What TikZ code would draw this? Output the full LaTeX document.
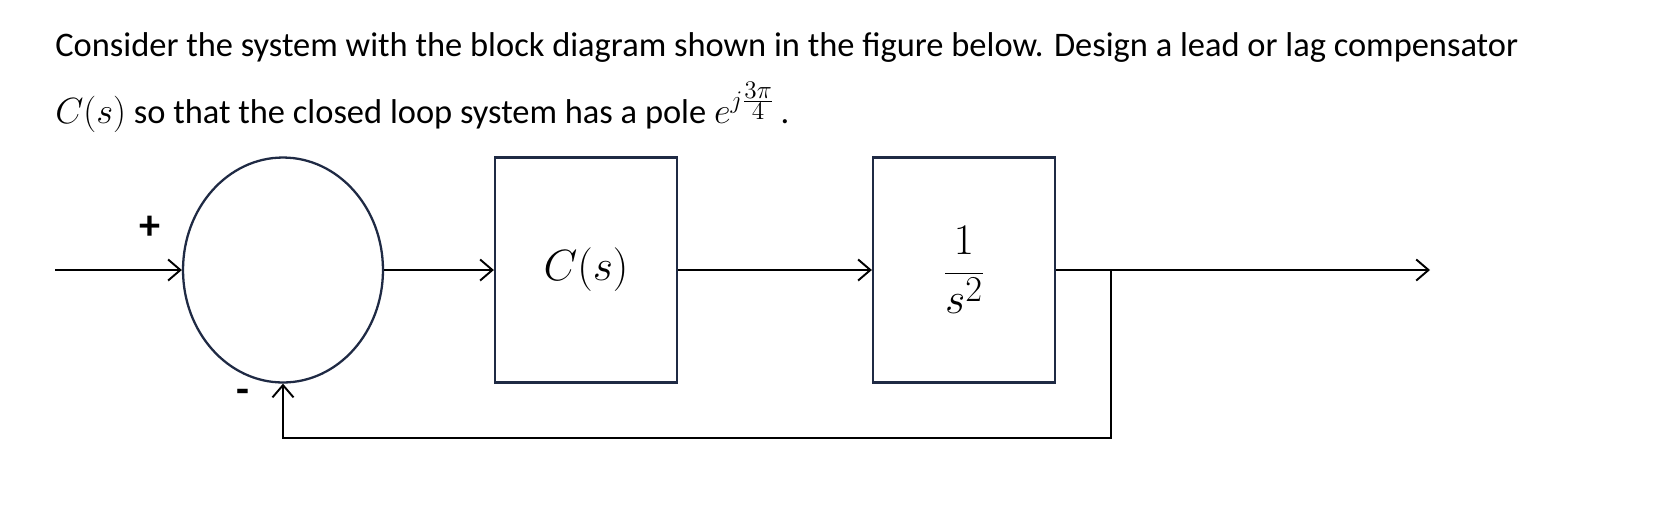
\documentclass[tikz,border=0pt]{standalone}
\usepackage{fontspec}
\setmainfont{Carlito}
\usetikzlibrary{shapes.geometric,arrows.meta}
\definecolor{navy}{HTML}{1F2A44}
\begin{document}
\begin{tikzpicture}[x=0.02cm,y=-0.02cm,
  blk/.style={draw=navy,line width=1.3pt,minimum width=3.64cm,minimum height=4.5cm,inner sep=0pt},
  sig/.style={line width=1.1pt,-{Straight Barb[length=7pt,width=12pt]}},
  txt/.style={anchor=west,inner sep=0pt,font=\fontsize{19.6}{23}\selectfont}]
\useasboundingbox (0,0) rectangle (1672,522);
\node[txt] (t1) at (55,47) {Consider the system with the block diagram shown in the figure below. Design a lead or lag compensator};
\node[txt] (t2) at (55,107) {$C(s)$ so that the closed loop system has a pole $e^{j\frac{\scriptstyle 3\pi}{\scriptstyle 4}}$\,.};
\node[draw=navy,line width=1.3pt,ellipse,minimum width=4cm,minimum height=4.5cm,inner sep=0pt] (sum) at (283,270) {};
\node[blk] (c) at (586,270) {\fontsize{32}{36}\selectfont $C(s)$};
\node[blk] (g) at (964,270) {\fontsize{32}{36}\selectfont $\displaystyle\frac{1}{s^2}$};
\coordinate (in) at (55,270);
\coordinate (out) at (1430,270);
\coordinate (br) at (1111,270);
\coordinate (fb1) at (1111,438);
\coordinate (fb2) at (283,438);
\draw[sig] (in) -- (sum.west);
\draw[sig] (sum.east) -- (c.west);
\draw[sig] (c.east) -- (g.west);
\draw[sig] (g.east) -- (out);
\draw[sig] (br) -- (fb1) -- (fb2) -- (sum.south);
\node[font=\fontsize{24}{24}\selectfont\bfseries] (plus) at (150,228) {+};
\node[font=\fontsize{24}{24}\selectfont\bfseries] (minus) at (243,396) {-};
\end{tikzpicture}
\end{document}
